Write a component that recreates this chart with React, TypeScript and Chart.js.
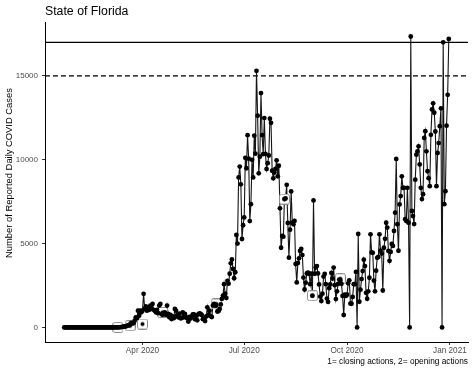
import React, { useEffect, useRef } from "react";
import { Chart, registerables } from "chart.js";

Chart.register(...registerables);

// Daily reported COVID cases, State of Florida, Jan 22 2020 - Dec 31 2020
const jan = [0, 0, 0, 0, 0, 0, 0, 0, 0, 0];
const feb = [0, 0, 0, 0, 0, 0, 0, 0, 0, 0, 0, 0, 0, 0, 0, 0, 0, 0, 0, 0, 0, 0, 0, 0, 0, 0, 0, 0, 0];
const mar = [2, 0, 1, 0, 2, 2, 3, 4, 3, 5, 7, 15, 20, 26, 40, 55, 56, 96, 120, 130, 200, 270, 240, 250, 400, 600, 550, 1000, 700, 1000, 900];
const apr = [1000, 2000, 1100, 1250, 1000, 1150, 1050, 1300, 1100, 1400, 1050, 1000, 900, 1050, 850, 1300, 1400, 800, 750, 850, 900, 750, 1300, 800, 600, 750, 500, 650, 550, 1100];
const may = [1000, 730, 600, 820, 540, 560, 900, 600, 800, 600, 550, 350, 630, 530, 640, 780, 780, 490, 720, 420, 780, 840, 800, 740, 490, 520, 380, 650, 1200, 730, 1000];
const jun = [670, 620, 1300, 1400, 1300, 1300, 950, 970, 1100, 1370, 1700, 1900, 2580, 2010, 1760, 2780, 2610, 3200, 3820, 4050, 3490, 2930, 3290, 5510, 5000, 8940, 9590, 8530, 5270, 6090];
const jul = [6560, 10110, 9490, 11460, 10060, 6340, 7350, 9990, 8940, 11430, 10360, 15300, 12620, 9190, 10180, 13970, 11470, 10330, 12480, 10350, 9440, 9790, 10250, 12440, 12200, 9340, 8890, 9230, 9450, 9960, 9010];
const aug = [9640, 7100, 4750, 5450, 5410, 7650, 7690, 8500, 6230, 4160, 5830, 8110, 6240, 6150, 6350, 3780, 2680, 3840, 4120, 4560, 4680, 4310, 2970, 2260, 2670, 3220, 3270, 3200, 2580, 3200, 1890];
const sep = [7570, 3200, 3570, 3660, 3220, 2560, 1840, 1570, 2010, 3030, 3190, 2580, 1720, 1520, 2340, 2560, 3250, 2910, 3570, 2520, 1690, 2150, 2590, 2850, 2800, 2600, 1880, 740, 1950, 1880];
const oct = [1950, 2630, 2810, 1420, 1410, 1820, 2580, 2580, 3310, 0, 5570, 1530, 2250, 2880, 3360, 4040, 3660, 2060, 1710, 2150, 2960, 5550, 4470, 4450, 2790, 2150, 3380, 4150, 4200, 5550, 4570];
const nov = [4400, 2200, 4750, 5280, 6240, 5950, 4560, 3970, 4500, 4980, 4860, 5750, 6840, 10040, 6150, 4570, 7330, 7830, 9010, 8320, 8320, 6450, 6340, 8320, 6240, 0, 17344, 6940, 6640, 6160];
const dec = [8810, 10300, 10500, 10800, 9720, 8320, 7650, 7940, 11300, 11700, 10500, 9310, 8900, 8420, 11480, 13000, 13360, 12800, 11680, 8420, 10400, 10990, 12000, 13060, 0, 17000, 7350, 8120, 12030, 13870, 17200];

// Policy actions (label boxes): day index since Jan 22 2020 and case level
const actionDays = [48, 59, 70, 88, 136, 197, 222, 247];
const actionValues = [0, 100, 200, 900, 1400, 7650, 1890, 2900];

// Reference lines
const dashedLevel = 15000;
const solidLevel = 17000;

// X axis: days since Jan 22 2020
const tickDays = [70, 161, 253, 345];
const tickLabels = ["Apr 2020", "Jul 2020", "Oct 2020", "Jan 2021"];
const yTicks = [0, 5000, 10000, 15000];

const titleText = "State of Florida";
const yTitle = "Number of Reported Daily COVID Cases";
const captionText = "1= closing actions, 2= opening actions";

const dailyCases: number[] = [].concat(jan, feb, mar, apr, may, jun, jul, aug, sep, oct, nov, dec);

const FONT = "'Liberation Sans', Arimo, Arial, sans-serif";
const X_MIN = -17.2;
const X_MAX = 361.2;

function makeBoxImage(): HTMLCanvasElement {
  const c = document.createElement("canvas");
  c.width = 11;
  c.height = 11;
  const g = c.getContext("2d")!;
  g.fillStyle = "#ffffff";
  g.strokeStyle = "#8a8a8a";
  g.lineWidth = 1;
  g.beginPath();
  (g as any).roundRect ? (g as any).roundRect(0.5, 0.5, 10, 10, 2) : g.rect(0.5, 0.5, 10, 10);
  g.fill();
  g.stroke();
  g.fillStyle = "#000";
  g.beginPath();
  g.arc(5.5, 5.5, 2, 0, Math.PI * 2);
  g.fill();
  return c;
}

const textPlugin = {
  id: "textPlugin",
  afterDraw(chart: any) {
    const ctx = chart.ctx;
    ctx.save();
    ctx.fillStyle = "#000";
    ctx.font = `12.3px ${FONT}`;
    ctx.textAlign = "left";
    ctx.textBaseline = "alphabetic";
    ctx.fillText(titleText, chart.chartArea.left, 14.5);
    ctx.font = `8.3px ${FONT}`;
    ctx.textAlign = "right";
    ctx.fillText(captionText, chart.chartArea.right, 364);
    // y axis title
    ctx.font = `9.4px ${FONT}`;
    ctx.textAlign = "center";
    ctx.textBaseline = "middle";
    ctx.translate(9, (chart.chartArea.top + chart.chartArea.bottom) / 2 - 9);
    ctx.rotate(-Math.PI / 2);
    ctx.fillText(yTitle, 0, 0);
    ctx.restore();
  },
};

export default function App() {
  const ref = useRef<HTMLCanvasElement | null>(null);

  useEffect(() => {
    document.body.style.margin = "0";
    const canvas = ref.current;
    if (!canvas) return;

    const points = dailyCases.map((v, i) => ({ x: i, y: v }));
    const boxes = actionDays.map((d, i) => ({ x: d, y: actionValues[i] }));
    const boxImg = makeBoxImage();

    const chart = new Chart(canvas, {
      type: "scatter",
      data: {
        datasets: [
          {
            label: "points",
            data: points,
            showLine: false,
            pointRadius: 2.4,
            pointBackgroundColor: "#000",
            pointBorderColor: "#000",
            pointBorderWidth: 0,
          },
          {
            label: "actions",
            data: boxes,
            showLine: false,
            pointStyle: boxImg as any,
            pointRadius: 5,
          },
          {
            label: "line",
            data: points,
            showLine: true,
            borderColor: "#151515",
            borderWidth: 1.1,
            pointRadius: 0,
          },
          {
            label: "dashed",
            data: [
              { x: X_MIN, y: dashedLevel },
              { x: X_MAX, y: dashedLevel },
            ],
            showLine: true,
            borderColor: "#000",
            borderWidth: 1.2,
            borderDash: [5, 3],
            pointRadius: 0,
          },
          {
            label: "solid",
            data: [
              { x: X_MIN, y: solidLevel },
              { x: X_MAX, y: solidLevel },
            ],
            showLine: true,
            borderColor: "#000",
            borderWidth: 1.2,
            pointRadius: 0,
          },
        ],
      },
      options: {
        responsive: false,
        animation: false,
        devicePixelRatio: 1,
        events: [],
        layout: { padding: { top: 22, right: 6, left: 0, bottom: 0 } },
        plugins: {
          legend: { display: false },
          title: { display: false },
          tooltip: { enabled: false },
        },
        scales: {
          x: {
            type: "linear",
            min: X_MIN,
            max: X_MAX,
            afterBuildTicks: (scale: any) => {
              scale.ticks = tickDays.map((v) => ({ value: v }));
            },
            afterFit: (scale: any) => {
              scale.height = 31;
            },
            ticks: {
              autoSkip: false,
              maxRotation: 0,
              minRotation: 0,
              padding: 1,
              color: "#4D4D4D",
              font: { family: FONT, size: 8.2 },
              callback: (value: any) => {
                const idx = tickDays.indexOf(Number(value));
                return idx >= 0 ? tickLabels[idx] : "";
              },
            },
            grid: {
              display: true,
              drawOnChartArea: false,
              drawTicks: true,
              tickLength: 3,
              color: "#333333",
              lineWidth: 1,
            },
            border: { display: true, color: "#000", width: 1 },
          },
          y: {
            type: "linear",
            min: -870,
            max: 18210,
            afterBuildTicks: (scale: any) => {
              scale.ticks = yTicks.map((v) => ({ value: v }));
            },
            afterFit: (scale: any) => {
              scale.width = 45;
            },
            ticks: {
              padding: 4,
              color: "#4D4D4D",
              font: { family: FONT, size: 8 },
              callback: (value: any) => String(value),
            },
            grid: {
              display: true,
              drawOnChartArea: false,
              drawTicks: true,
              tickLength: 3,
              color: "#333333",
              lineWidth: 1,
            },
            border: { display: true, color: "#000", width: 1 },
          },
        },
      },
      plugins: [textPlugin],
    } as any);

    return () => chart.destroy();
  }, []);

  return <canvas ref={ref} width={474} height={373} style={{ display: "block" }} />;
}
